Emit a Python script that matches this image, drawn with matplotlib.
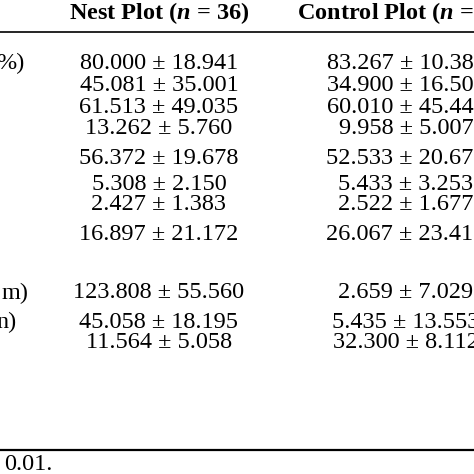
import matplotlib
matplotlib.use("Agg")
import matplotlib.pyplot as plt

plt.rcParams["mathtext.fontset"] = "custom"
plt.rcParams["mathtext.rm"] = "Liberation Serif"
plt.rcParams["mathtext.it"] = "Liberation Serif:italic"
plt.rcParams["mathtext.bfit"] = "Liberation Serif:italic:bold"
plt.rcParams["mathtext.bf"] = "Liberation Serif:bold"

nest = ["80.000 ± 18.941", "45.081 ± 35.001", "61.513 ± 49.035", "13.262 ± 5.760",
        "56.372 ± 19.678", "5.308 ± 2.150", "2.427 ± 1.383", "16.897 ± 21.172",
        "123.808 ± 55.560", "45.058 ± 18.195", "11.564 ± 5.058"]
control = ["83.267 ± 10.384", "34.900 ± 16.500", "60.010 ± 45.440", "9.958 ± 5.007",
           "52.533 ± 20.670", "5.433 ± 3.253", "2.522 ± 1.677", "26.067 ± 23.410",
           "2.659 ± 7.029", "5.435 ± 13.553", "32.300 ± 8.112"]
left_labels = ["%)", "", "", "", "", "", "", "", "m)", "n)", ""]
row_y = [63, 85, 107, 129, 158, 184, 205, 234, 293, 322, 343]

W = 474
fig = plt.figure(figsize=(4.74, 4.74), dpi=100)
ax = fig.add_axes([0, 0, 1, 1])
ax.set_xlim(0, W); ax.set_ylim(W, 0); ax.axis("off")
font = dict(family="Liberation Serif", fontsize=17.5, va="center")

ax.text(159, 13, "Nest Plot ($\\mathbfit{n}$ = 36)", ha="center", fontweight="bold", **font)
ax.text(297, 13, "Control Plot ($\\mathbfit{n}$ = 36)", ha="left", fontweight="bold", **font)
ax.plot([0, W], [32, 32], color="black", lw=1.2)
ax.plot([0, W], [450, 450], color="black", lw=1.6)
for y, a, b, l in zip(row_y, nest, control, left_labels):
    ax.text(159, y, a, ha="center", **font)
    ax.text(406, y, b, ha="center", **font)
    if l:
        ax.text(-4 if l != "m)" else 2, y, l, ha="left", **font)
ax.text(4, 464, "0.01.", ha="left", **font)
fig.savefig("out.png", dpi=100)
